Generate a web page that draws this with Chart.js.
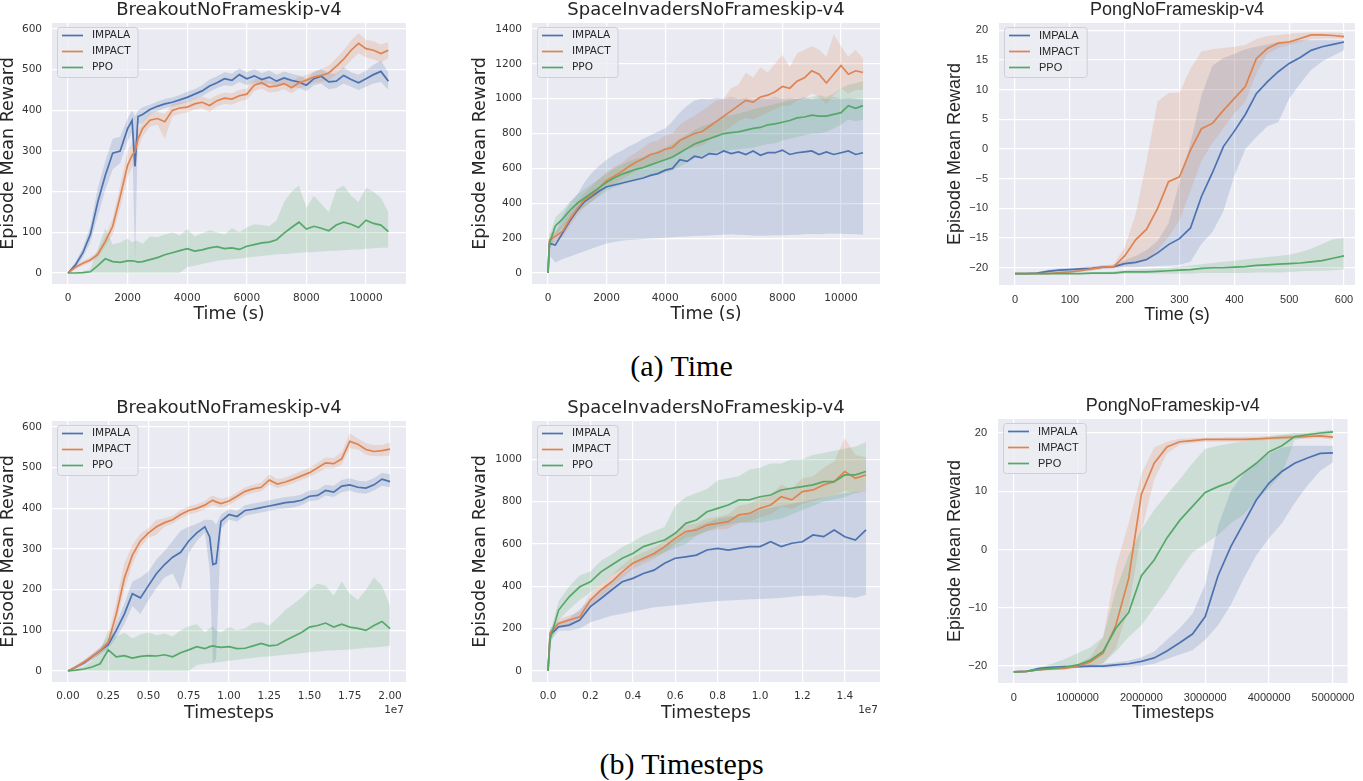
<!DOCTYPE html>
<html>
<head>
<meta charset="utf-8">
<script src="https://cdn.jsdelivr.net/npm/chart.js@4.4.1/dist/chart.umd.min.js"></script>
<style>
  body { margin: 0; background: #fff; width: 1363px; height: 781px; overflow: hidden; position: relative; }
  .panel { position: absolute; }
  .cap { position: absolute; left: 0; width: 1363px; text-align: center; font-family: "Liberation Serif", "Times New Roman", serif; font-size: 30px; line-height: 30px; color: #000; }
</style>
</head>
<body>
<div class="panel" style="left:0;top:0;width:455px;height:330px"><canvas id="p1"></canvas></div>
<div class="panel" style="left:460px;top:0;width:455px;height:330px"><canvas id="p2"></canvas></div>
<div class="panel" style="left:920px;top:0;width:443px;height:330px"><canvas id="p3"></canvas></div>
<div class="cap" style="top:351px">(a) Time</div>
<div class="panel" style="left:0;top:390px;width:455px;height:340px"><canvas id="p4"></canvas></div>
<div class="panel" style="left:460px;top:390px;width:455px;height:340px"><canvas id="p5"></canvas></div>
<div class="panel" style="left:920px;top:390px;width:443px;height:340px"><canvas id="p6"></canvas></div>
<div class="cap" style="top:749px">(b) Timesteps</div>

<script>
// ---- Breakout, wall-clock time (s)
const brkTimeX = [0,250,500,750,1000,1250,1500,1750,2000,2150,2250,2350,2500,2750,3000,3250,3500,3750,4000,4250,4500,4750,5000,5250,5500,5750,6000,6250,6500,6750,7000,7250,7500,7750,8000,8250,8500,8750,9000,9250,9500,9750,10000,10250,10500,10750];
const brkTimeImpala   = [0,20,50,95,175,240,295,300,355,375,262,385,390,402,410,416,420,426,432,440,448,460,468,478,474,488,478,485,476,482,472,480,474,470,462,478,484,470,472,486,476,468,478,488,496,472];
const brkTimeImpalaLo = [0,12,38,75,140,205,255,270,325,345,30,365,370,390,398,405,410,415,420,428,435,446,455,462,460,470,462,468,462,466,458,464,458,455,448,462,466,452,455,466,458,450,458,466,470,450];
const brkTimeImpalaHi = [0,28,62,115,210,275,330,335,380,400,385,400,408,414,422,428,432,438,446,452,462,476,484,494,490,504,494,502,492,498,488,496,490,486,478,494,502,490,490,506,494,488,498,512,522,494];
const brkTimeImpact   = [0,14,24,32,46,77,115,188,265,290,298,330,355,376,380,372,400,406,408,416,420,412,424,430,428,436,440,462,468,458,460,466,456,468,474,482,486,492,508,526,548,565,552,548,540,548];
const brkTimeImpactLo = [0,10,18,26,38,65,95,160,235,260,270,305,335,360,365,330,385,392,395,402,406,396,410,416,414,422,426,448,454,444,446,452,442,454,460,468,470,474,488,504,524,540,530,526,518,528];
const brkTimeImpactHi = [0,18,30,38,54,90,135,215,300,320,325,352,372,392,396,392,415,420,422,430,434,428,438,444,442,450,454,476,482,472,474,480,470,482,488,496,502,510,528,548,572,590,574,570,562,568];
const brkTimePpo      = [0,0,1,3,18,35,28,26,30,30,29,27,28,33,38,45,50,55,60,54,57,62,65,60,62,58,66,70,74,76,82,98,112,125,108,115,110,104,118,125,120,112,130,122,118,102];
const brkTimePpoLo    = [0,0,0,0,0,0,0,0,0,0,0,0,0,0,0,0,0,0,15,18,22,26,30,32,34,36,38,40,42,44,46,47,48,50,51,52,53,54,55,56,57,58,60,61,62,62];
const brkTimePpoHi    = [0,0,3,10,60,110,70,75,85,75,80,78,72,90,88,95,100,92,108,90,98,105,100,95,110,100,112,120,118,115,130,175,200,215,160,190,170,150,205,215,190,175,210,200,185,150];
const brkTimeXTicks = [0,2000,4000,6000,8000,10000];
const brkYTicks = [0,100,200,300,400,500,600];

// ---- SpaceInvaders, wall-clock time (s)
const siTimeX = [0,50,250,500,750,1000,1250,1500,1750,2000,2250,2500,2750,3000,3250,3500,3750,4000,4250,4500,4750,5000,5250,5500,5750,6000,6250,6500,6750,7000,7250,7500,7750,8000,8250,8500,8750,9000,9250,9500,9750,10000,10250,10500,10750];
const siTimeImpala   = [0,170,160,230,300,360,410,440,470,495,505,515,525,535,545,560,570,590,600,650,640,670,660,685,680,700,685,695,680,700,675,690,690,705,680,690,695,700,680,695,680,690,700,680,690];
const siTimeImpalaLo = [0,100,60,80,95,110,125,140,155,170,178,185,190,192,195,198,200,202,205,208,210,212,214,215,218,220,222,220,218,215,214,215,216,215,218,220,222,224,222,225,226,225,224,222,220];
const siTimeImpalaHi = [0,200,230,330,400,450,520,575,615,650,680,700,725,745,770,790,810,830,870,920,960,990,1000,995,1005,1000,1010,1000,1005,995,1005,1000,1010,1000,1005,1000,1010,995,1005,1000,1010,1000,1005,1000,995];
const siTimeImpact   = [0,190,210,240,310,370,420,450,490,530,555,580,610,635,655,680,690,710,720,760,780,800,810,840,870,900,930,960,990,980,1010,1020,1040,1070,1060,1100,1120,1160,1140,1090,1140,1190,1140,1160,1150];
const siTimeImpactLo = [0,150,180,205,270,330,380,410,450,490,510,535,560,585,600,620,635,650,660,690,710,720,730,760,790,810,840,870,890,880,900,920,940,960,960,990,1000,1030,1010,970,1020,1060,1030,1050,1050];
const siTimeImpactHi = [0,230,240,280,350,410,460,500,540,580,610,630,665,690,720,750,760,790,800,850,880,900,930,960,990,1000,1060,1080,1150,1120,1180,1150,1200,1250,1180,1260,1280,1300,1280,1240,1370,1300,1240,1280,1230];
const siTimePpo      = [0,170,270,310,360,400,430,460,490,520,545,565,580,595,605,620,635,650,665,690,715,740,755,770,785,800,805,810,820,830,835,850,855,865,875,890,895,905,900,900,910,920,960,945,960];
const siTimePpoLo    = [0,130,220,260,310,350,380,410,440,470,490,505,520,535,545,555,565,575,590,610,635,660,670,685,695,700,705,710,715,720,730,740,745,760,770,780,790,800,800,810,830,850,880,870,880];
const siTimePpoHi    = [0,210,320,360,410,450,480,510,540,570,600,620,640,655,665,685,700,720,740,770,795,820,840,855,875,900,905,915,925,940,950,960,970,980,990,1000,1000,1010,1020,1010,1030,1060,1080,1090,1100];
const siTimeYTicks = [0,200,400,600,800,1000,1200,1400];

// ---- Pong, wall-clock time (s)
const pongTimeX = [0,20,40,60,80,100,120,140,160,180,200,220,240,260,280,300,320,340,360,380,400,420,440,460,480,500,520,540,560,580,600];
const pongTimeImpala   = [-21,-21,-20.9,-20.6,-20.4,-20.3,-20.2,-20.1,-19.9,-19.8,-19.3,-19.1,-18.6,-17.5,-16.1,-15.1,-13.3,-8,-4,0.4,3,5.8,9.3,11.3,13,14.4,15.4,16.6,17.2,17.6,18];
const pongTimeImpalaLo = [-21,-21,-21,-20.9,-20.7,-20.6,-20.5,-20.4,-20.2,-20.1,-19.9,-19.9,-19.8,-19.7,-19.6,-19.5,-19,-16,-14,-10.5,-4.5,0,2,3.8,4.5,8.5,11,13.3,14.7,15.7,16.6];
const pongTimeImpalaHi = [-21,-21,-20.8,-20.3,-20.1,-20,-19.9,-19.8,-19.6,-19.5,-18.7,-18,-17,-15.5,-12.5,-5.5,1,9,14,15.3,16,16.8,17.2,17.6,18,18.2,18.3,18.3,18.3,18.3,18.3];
const pongTimeImpact   = [-21,-21,-21,-21,-20.8,-20.7,-20.5,-20.2,-19.9,-19.8,-18,-15.3,-13.5,-10,-5.5,-4.7,-0.2,3.4,4.3,6.5,8.5,10.5,15.2,16.9,17.8,18,18.6,19.2,19.2,19.1,18.9];
const pongTimeImpactLo = [-21,-21,-21,-21,-20.9,-20.8,-20.7,-20.5,-20.2,-20.1,-19.7,-19.3,-18.8,-17,-14.8,-12,-7,-2,1,3.5,6,8,12.7,16,17,17.5,18,18.5,18.6,18.6,18.5];
const pongTimeImpactHi = [-21,-21,-21,-21,-20.7,-20.6,-20.3,-19.9,-19.6,-19.4,-16.5,-11,-2,8,9.4,9.5,13.5,16.4,16.8,17,17.2,17.5,18.5,19,19.2,19.4,19.5,19.6,19.6,19.6,19.5];
const pongTimePpo      = [-21,-21,-21,-21,-21,-21,-21,-20.9,-20.9,-20.9,-20.7,-20.7,-20.7,-20.6,-20.5,-20.4,-20.3,-20.1,-20,-20,-19.9,-19.8,-19.6,-19.5,-19.4,-19.3,-19.2,-19,-18.8,-18.4,-18];
const pongTimePpoLo    = [-21.1,-21.1,-21.1,-21.1,-21.1,-21.1,-21.1,-21.1,-21.1,-21.1,-21,-21,-21,-21,-21,-21,-21,-20.9,-20.9,-20.9,-20.9,-20.9,-20.8,-20.8,-20.8,-20.7,-20.6,-20.5,-20.5,-20.4,-20.3];
const pongTimePpoHi    = [-20.9,-20.9,-20.9,-20.9,-20.9,-20.9,-20.9,-20.8,-20.7,-20.6,-20.4,-20.3,-20.2,-20.1,-20,-19.8,-19.6,-19.4,-19.2,-19,-18.8,-18.6,-18.4,-18.2,-18,-17.8,-17.4,-16.8,-16,-15.2,-15];
const pongTimeXTicks = [0,100,200,300,400,500,600];
const pongTimeYTicks = [-20,-15,-10,-5,0,5,10,15,20];

// ---- Breakout, timesteps (x in units of 1e7)
const brkStepX = [0,0.05,0.1,0.15,0.2,0.25,0.3,0.35,0.4,0.45,0.5,0.55,0.6,0.65,0.7,0.75,0.8,0.85,0.88,0.9,0.92,0.95,1,1.05,1.1,1.15,1.2,1.25,1.3,1.35,1.4,1.45,1.5,1.55,1.6,1.65,1.7,1.75,1.8,1.85,1.9,1.95,2];
const brkStepImpala   = [0,10,20,35,50,65,100,140,190,180,210,240,262,280,292,320,340,355,330,262,265,368,385,380,395,398,402,406,410,414,416,420,430,432,444,440,455,458,452,450,458,472,466];
const brkStepImpalaLo = [0,6,15,28,42,55,82,115,160,140,175,205,230,240,200,290,320,340,250,20,30,350,372,368,382,386,390,394,398,400,402,408,418,420,432,428,440,444,438,436,444,456,452];
const brkStepImpalaHi = [0,14,25,42,58,75,118,165,220,230,245,275,295,320,345,355,362,372,372,370,360,385,398,394,408,412,416,420,424,428,430,434,444,446,458,456,470,474,468,466,474,488,484];
const brkStepImpact   = [0,10,22,35,50,70,140,228,285,320,340,355,365,372,385,395,400,408,416,420,416,412,418,430,442,448,452,470,460,465,472,480,488,500,512,510,522,565,558,545,540,542,546];
const brkStepImpactLo = [0,6,16,28,42,58,115,200,262,305,328,335,355,362,375,385,390,398,404,408,405,402,408,420,432,438,442,458,450,455,462,470,478,488,498,498,508,548,545,532,528,528,530];
const brkStepImpactHi = [0,14,28,42,58,85,170,265,310,338,352,372,376,382,396,405,410,418,428,432,428,424,428,440,452,458,464,484,472,476,484,492,500,512,526,524,538,585,572,560,556,556,562];
const brkStepPpo      = [0,2,5,10,18,52,35,38,32,36,38,37,40,35,45,52,60,55,60,62,60,58,60,55,56,62,68,62,64,75,85,95,108,112,118,108,115,108,105,100,112,122,104];
const brkStepPpoLo    = [0,0,0,0,0,0,0,0,0,0,0,0,0,0,0,0,15,18,19,20,21,22,25,27,30,32,35,36,38,40,42,44,46,48,50,51,52,53,55,57,58,60,62];
const brkStepPpoHi    = [0,5,12,25,50,100,85,95,80,90,95,88,92,85,100,110,115,95,105,110,100,95,108,100,105,118,120,112,130,150,165,180,200,215,210,185,220,190,175,200,230,210,160];
const brkStepXTicks = [0,0.25,0.5,0.75,1,1.25,1.5,1.75,2];

// ---- SpaceInvaders, timesteps (x in units of 1e7)
const siStepX = [0,0.01,0.05,0.1,0.15,0.2,0.25,0.3,0.35,0.4,0.45,0.5,0.55,0.6,0.65,0.7,0.75,0.8,0.85,0.9,0.95,1,1.05,1.1,1.15,1.2,1.25,1.3,1.35,1.4,1.45,1.5];
const siStepImpala   = [0,170,208,216,240,303,342,382,421,437,460,476,508,532,539,547,571,579,571,579,587,587,610,587,603,610,642,634,666,634,618,666];
const siStepImpalaLo = [0,140,190,190,200,230,245,260,270,280,290,300,305,310,315,320,325,330,332,335,338,340,342,345,350,355,355,358,352,350,345,360];
const siStepImpalaHi = [0,200,230,250,290,340,380,420,460,500,530,560,590,620,650,680,700,720,730,730,740,760,770,780,790,800,810,820,830,840,845,850];
const siStepImpact   = [0,180,224,240,255,334,382,421,468,508,532,555,587,626,658,666,689,697,705,737,744,768,784,823,808,847,855,879,894,942,910,926];
const siStepImpactLo = [0,160,205,222,235,305,350,392,440,480,505,528,560,598,630,638,660,668,672,700,705,725,740,775,765,790,800,820,830,850,840,850];
const siStepImpactHi = [0,200,245,262,280,365,412,452,498,538,560,582,615,655,688,696,720,728,740,780,790,815,830,880,860,910,920,960,990,1100,1020,1010];
const siStepPpo      = [0,150,287,350,397,421,468,500,532,555,587,603,618,650,697,713,752,768,784,808,808,823,831,855,863,871,879,894,894,926,926,942];
const siStepPpoLo    = [0,120,240,290,335,370,410,450,480,500,520,540,560,580,600,640,660,680,690,700,700,700,710,720,740,760,780,800,810,820,840,850];
const siStepPpoHi    = [0,180,330,400,450,470,520,550,585,610,640,660,680,780,820,840,860,900,910,920,950,960,980,980,1000,1000,1020,1030,1040,1050,1060,1080];
const siStepXTicks = [0,0.2,0.4,0.6,0.8,1,1.2,1.4];
const siStepYTicks = [0,200,400,600,800,1000];

// ---- Pong, timesteps
const pongStepX = [0,200000,400000,600000,800000,1000000,1200000,1400000,1600000,1800000,2000000,2200000,2400000,2600000,2800000,3000000,3200000,3400000,3600000,3800000,4000000,4200000,4400000,4600000,4800000,5000000];
const pongStepImpala   = [-21,-20.9,-20.4,-20.2,-20.1,-20.1,-20,-20,-19.8,-19.6,-19.2,-18.6,-17.4,-16,-14.5,-11.5,-4.5,0.5,4.5,8.5,11.4,13.4,14.8,15.7,16.5,16.6];
const pongStepImpalaLo = [-21.1,-21,-20.6,-20.4,-20.3,-20.3,-20.3,-20.3,-20.2,-20.1,-20,-19.6,-18.8,-18,-17.3,-15.5,-13,-9.5,-5,-1,2,4.5,8,11,13.5,15];
const pongStepImpalaHi = [-20.9,-20.8,-20.2,-20,-19.9,-19.9,-19.7,-19.6,-19.4,-19.1,-18.5,-17.5,-15.5,-13.5,-11,-6,4,10,13,15,16.5,17.5,17.8,17.8,17.8,17.8];
const pongStepImpact   = [-21,-20.9,-20.6,-20.5,-20.4,-20,-19.3,-17.8,-13,-5,9.5,14.8,17.6,18.5,18.7,18.9,18.9,18.9,18.9,19,19.1,19.2,19.3,19.4,19.5,19.3];
const pongStepImpactLo = [-21.1,-21,-20.8,-20.7,-20.6,-20.3,-19.8,-19.5,-17,-10,3,12,16.5,18,18.3,18.5,18.5,18.5,18.6,18.7,18.8,18.9,19,19,19.1,18.9];
const pongStepImpactHi = [-20.9,-20.8,-20.4,-20.3,-20.2,-19.7,-18.5,-15,-3,4.5,13,17.5,18.5,19,19.1,19.2,19.2,19.3,19.3,19.4,19.5,19.6,19.7,19.8,19.8,19.7];
const pongStepPpo      = [-21,-20.9,-20.6,-20.4,-20.2,-19.8,-19,-17.5,-13.5,-10.8,-4.5,-1.8,2,5,7.4,9.8,10.8,11.6,13.2,14.8,16.8,17.8,19.4,19.7,20,20.2];
const pongStepPpoLo    = [-21.1,-21,-20.8,-20.6,-20.5,-20.3,-20,-19.5,-17.5,-15,-13,-10,-7,-3.5,-0.5,1,2.5,4.5,6,8.5,10.5,13,18.8,19.2,19.5,19.8];
const pongStepPpoHi    = [-20.9,-20.8,-20.3,-19.6,-18.8,-17.8,-16.8,-15,-7,-1,3.4,6.8,9.5,12,14.8,17.3,17.8,18.2,18.6,19,19.4,19.7,20,20.1,20.3,20.5];
const pongStepXTicks = [0,1000000,2000000,3000000,4000000,5000000];
const pongStepYTicks = [-20,-10,0,10,20];

const seriesNames = ['IMPALA', 'IMPACT', 'PPO'];
const lineColors = ['#4C72B0', '#DD8452', '#55A868'];
const bandColors = ['rgba(76,114,176,0.2)', 'rgba(221,132,82,0.2)', 'rgba(85,168,104,0.2)'];

const DEJAVU = '"DejaVu Sans", sans-serif';
const LIBSANS = '"Liberation Sans", Arial, sans-serif';

// grey axes background (seaborn darkgrid)
const axesBg = {
  id: 'axesBg',
  beforeDraw(chart) {
    const { ctx, chartArea: a } = chart;
    ctx.save();
    ctx.fillStyle = '#EAEAF2';
    ctx.fillRect(a.left, a.top, a.right - a.left, a.bottom - a.top);
    ctx.restore();
  }
};

// legend box in upper-left corner of the axes
const innerLegend = {
  id: 'innerLegend',
  afterDatasetsDraw(chart, args, opts) {
    const { ctx, chartArea: a } = chart;
    const items = chart.data.datasets.filter(d => d.isLine);
    ctx.save();
    ctx.font = opts.size + 'px ' + opts.family;
    const tw = Math.max(...items.map(d => ctx.measureText(d.label).width));
    const x = a.left + 5, y = a.top + 4, w = 35 + tw + 7, h = 50;
    ctx.beginPath();
    if (ctx.roundRect) ctx.roundRect(x + 0.5, y + 0.5, w, h, 3); else ctx.rect(x + 0.5, y + 0.5, w, h);
    ctx.fillStyle = 'rgba(236,236,243,0.8)';
    ctx.fill();
    ctx.strokeStyle = '#cfcfd6';
    ctx.lineWidth = 1;
    ctx.stroke();
    items.forEach((d, i) => {
      const cy = y + 8.5 + i * 16;
      ctx.strokeStyle = d.borderColor;
      ctx.lineWidth = 1.7;
      ctx.beginPath(); ctx.moveTo(x + 5, cy); ctx.lineTo(x + 26, cy); ctx.stroke();
      ctx.fillStyle = '#262626';
      ctx.textBaseline = 'middle';
      ctx.fillText(d.label, x + 35, cy);
    });
    ctx.restore();
  }
};

// matplotlib-style "1e7" offset text under the right end of the x axis
const offsetText = {
  id: 'offsetText',
  afterDraw(chart, args, opts) {
    if (!opts.text) return;
    const { ctx, chartArea: a } = chart;
    ctx.save();
    ctx.font = '10.5px ' + DEJAVU;
    ctx.fillStyle = '#333';
    ctx.textAlign = 'right';
    ctx.textBaseline = 'middle';
    ctx.fillText(opts.text, a.right - 2, a.bottom + 28);
    ctx.restore();
  }
};

const plainNum = v => String(v);
const minusNum = v => (v < 0 ? '\u2212' + Math.abs(v) : String(v));

function drawPanel(id, p) {
  const datasets = [];
  p.series.forEach((s, i) => {
    const lowIdx = datasets.length;
    datasets.push({ data: p.x.map((v, k) => ({ x: v, y: s.lo[k] })), borderColor: 'transparent', borderWidth: 0, pointRadius: 0, fill: false, order: 12 - i });
    datasets.push({ data: p.x.map((v, k) => ({ x: v, y: s.hi[k] })), borderColor: 'transparent', borderWidth: 0, pointRadius: 0, fill: lowIdx, backgroundColor: bandColors[i], order: 12 - i });
  });
  p.series.forEach((s, i) => {
    datasets.push({ label: seriesNames[i], isLine: true, data: p.x.map((v, k) => ({ x: v, y: s.y[k] })), borderColor: lineColors[i], borderWidth: 1.7, pointRadius: 0, fill: false, order: 3 - i });
  });

  const tickFont = { family: p.family, size: p.tickSize };
  const labelFont = { family: p.family, size: p.labelSize, lineHeight: 1 };
  const grid = { color: '#ffffff', lineWidth: 1.2, drawTicks: false };

  new Chart(document.getElementById(id), {
    type: 'line',
    data: { datasets },
    options: {
      responsive: true, maintainAspectRatio: false, animation: false, events: [],
      layout: { padding: { left: 0, right: p.padR, top: 0, bottom: 0 } },
      plugins: {
        legend: { display: false },
        tooltip: { enabled: false },
        title: { display: true, text: p.title, fullSize: false, color: '#262626', font: { family: p.family, size: 18, weight: 'normal', lineHeight: 1 }, padding: p.titlePad },
        innerLegend: { family: p.family, size: p.tickSize },
        offsetText: { text: p.offset || '' }
      },
      scales: {
        x: {
          type: 'linear', min: p.xMin, max: p.xMax,
          afterBuildTicks: s => { s.ticks = p.xTicks.map(v => ({ value: v })); },
          afterFit: s => { s.height = p.xAxisH; },
          ticks: { autoSkip: false, maxRotation: 0, padding: 8, color: '#333', font: tickFont, callback: p.xFmt },
          grid, border: { display: false },
          title: { display: true, text: p.xLabel, color: '#262626', font: labelFont, padding: { top: 0, bottom: p.xTitleB } }
        },
        y: {
          min: p.yMin, max: p.yMax,
          afterBuildTicks: s => { s.ticks = p.yTicks.map(v => ({ value: v })); },
          afterFit: s => { s.width = p.yAxisW; },
          ticks: { autoSkip: false, padding: p.yTickPad, color: '#333', font: tickFont, callback: p.yFmt },
          grid, border: { display: false },
          title: { display: true, text: 'Episode Mean Reward', color: '#262626', font: labelFont, padding: { top: p.yTitleT, bottom: 0 } }
        }
      }
    },
    plugins: [axesBg, innerLegend, offsetText]
  });
}

// (a) Time
drawPanel('p1', {
  x: brkTimeX, title: 'BreakoutNoFrameskip-v4', xLabel: 'Time (s)', family: DEJAVU, tickSize: 10.5, labelSize: 17.5,
  series: [
    { y: brkTimeImpala, lo: brkTimeImpalaLo, hi: brkTimeImpalaHi },
    { y: brkTimeImpact, lo: brkTimeImpactLo, hi: brkTimeImpactHi },
    { y: brkTimePpo, lo: brkTimePpoLo, hi: brkTimePpoHi }
  ],
  xMin: -537, xMax: 11342, yMin: -27, yMax: 615, xTicks: brkTimeXTicks, yTicks: brkYTicks, xFmt: plainNum, yFmt: plainNum,
  padR: 49, yAxisW: 52, xAxisH: 46, titlePad: { top: 1.5, bottom: 3.5 }, xTitleB: 7, yTitleT: 0, yTickPad: 10
});
drawPanel('p2', {
  x: siTimeX, title: 'SpaceInvadersNoFrameskip-v4', xLabel: 'Time (s)', family: DEJAVU, tickSize: 10.5, labelSize: 17.5,
  series: [
    { y: siTimeImpala, lo: siTimeImpalaLo, hi: siTimeImpalaHi },
    { y: siTimeImpact, lo: siTimeImpactLo, hi: siTimeImpactHi },
    { y: siTimePpo, lo: siTimePpoLo, hi: siTimePpoHi }
  ],
  xMin: -546, xMax: 11330, yMin: -63, yMax: 1434, xTicks: brkTimeXTicks, yTicks: siTimeYTicks, xFmt: plainNum, yFmt: plainNum,
  padR: 35, yAxisW: 72, xAxisH: 46, titlePad: { top: 1.5, bottom: 3.5 }, xTitleB: 7, yTitleT: 12, yTickPad: 10
});
drawPanel('p3', {
  x: pongTimeX, title: 'PongNoFrameskip-v4', xLabel: 'Time (s)', family: LIBSANS, tickSize: 11, labelSize: 18,
  series: [
    { y: pongTimeImpala, lo: pongTimeImpalaLo, hi: pongTimeImpalaHi },
    { y: pongTimeImpact, lo: pongTimeImpactLo, hi: pongTimeImpactHi },
    { y: pongTimePpo, lo: pongTimePpoLo, hi: pongTimePpoHi }
  ],
  xMin: -29.2, xMax: 620, yMin: -22.9, yMax: 21.2, xTicks: pongTimeXTicks, yTicks: pongTimeYTicks, xFmt: plainNum, yFmt: minusNum,
  padR: 8, yAxisW: 79, xAxisH: 45, titlePad: { top: 1, bottom: 4 }, xTitleB: 6, yTitleT: 26, yTickPad: 11
});

// (b) Timesteps
drawPanel('p4', {
  x: brkStepX, title: 'BreakoutNoFrameskip-v4', xLabel: 'Timesteps', family: DEJAVU, tickSize: 10.5, labelSize: 17.5, offset: '1e7',
  series: [
    { y: brkStepImpala, lo: brkStepImpalaLo, hi: brkStepImpalaHi },
    { y: brkStepImpact, lo: brkStepImpactLo, hi: brkStepImpactHi },
    { y: brkStepPpo, lo: brkStepPpoLo, hi: brkStepPpoHi }
  ],
  xMin: -0.099, xMax: 2.099, yMin: -27, yMax: 615, xTicks: brkStepXTicks, yTicks: brkYTicks, xFmt: v => v.toFixed(2), yFmt: plainNum,
  padR: 49, yAxisW: 52, xAxisH: 48, titlePad: { top: 9, bottom: 4 }, xTitleB: 8, yTitleT: 0, yTickPad: 10
});
drawPanel('p5', {
  x: siStepX, title: 'SpaceInvadersNoFrameskip-v4', xLabel: 'Timesteps', family: DEJAVU, tickSize: 10.5, labelSize: 17.5, offset: '1e7',
  series: [
    { y: siStepImpala, lo: siStepImpalaLo, hi: siStepImpalaHi },
    { y: siStepImpact, lo: siStepImpactLo, hi: siStepImpactHi },
    { y: siStepPpo, lo: siStepPpoLo, hi: siStepPpoHi }
  ],
  xMin: -0.0755, xMax: 1.566, yMin: -53, yMax: 1181, xTicks: siStepXTicks, yTicks: siStepYTicks, xFmt: v => v.toFixed(1), yFmt: plainNum,
  padR: 35, yAxisW: 72, xAxisH: 48, titlePad: { top: 9, bottom: 4 }, xTitleB: 8, yTitleT: 12, yTickPad: 10
});
drawPanel('p6', {
  x: pongStepX, title: 'PongNoFrameskip-v4', xLabel: 'Timesteps', family: LIBSANS, tickSize: 11, labelSize: 18,
  series: [
    { y: pongStepImpala, lo: pongStepImpalaLo, hi: pongStepImpalaHi },
    { y: pongStepImpact, lo: pongStepImpactLo, hi: pongStepImpactHi },
    { y: pongStepPpo, lo: pongStepPpoLo, hi: pongStepPpoHi }
  ],
  xMin: -246000, xMax: 5230000, yMin: -22.9, yMax: 22.4, xTicks: pongStepXTicks, yTicks: pongStepYTicks, xFmt: plainNum, yFmt: minusNum,
  padR: 9, yAxisW: 78, xAxisH: 47, titlePad: { top: 7.5, bottom: 3.5 }, xTitleB: 8, yTitleT: 26, yTickPad: 11
});
</script>
</body>
</html>
